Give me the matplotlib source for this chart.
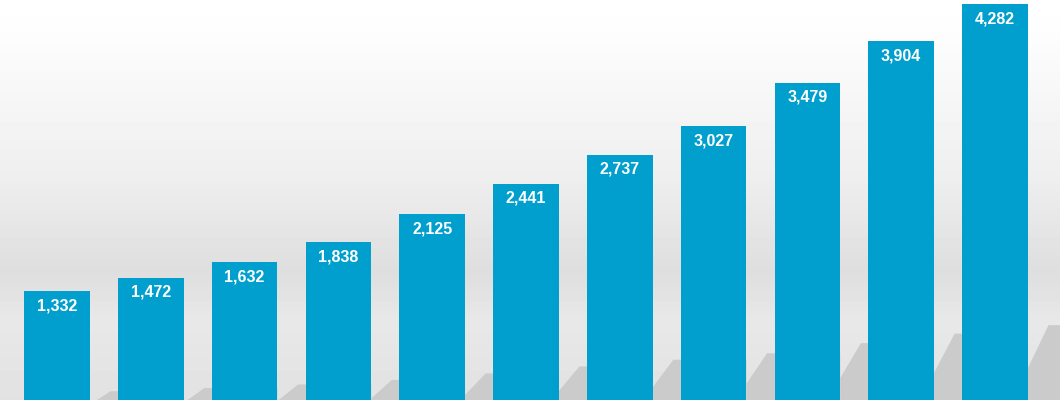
import matplotlib
matplotlib.use("Agg")
import matplotlib.pyplot as plt
import numpy as np
from matplotlib.patches import Polygon

values = [1332, 1472, 1632, 1838, 2125, 2441, 2737, 3027, 3479, 3904, 4282]
labels = ["1,332", "1,472", "1,632", "1,838", "2,125", "2,441",
          "2,737", "3,027", "3,479", "3,904", "4,282"]

bar_color = "#009fcd"
width = 0.70

fig = plt.figure(figsize=(10.6, 4.0), dpi=100)
ax = fig.add_axes([0, 0, 1, 1])
x = np.arange(len(values))
ax.set_xlim(-0.608, 10.693)
ax.set_ylim(216, 4327)
ax.axis("off")

# background: white at top fading to light grey near the floor
rows = np.linspace(0, 1, 400)
grey = np.interp(rows, [0, 0.08, 0.45, 0.68, 0.8, 1.0],
                 [255, 253, 238, 222, 232, 226]) / 255
bg = np.repeat(grey[:, None], 2, axis=1)
ax.imshow(bg, cmap="gray", vmin=0, vmax=1, aspect="auto",
          extent=[-0.608, 10.693, 216, 4327], origin="upper", zorder=0)

# soft floor shadows cast to the right of each bar
for xi, v in zip(x, values):
    xr = xi + width / 2
    h = 0.23 * v
    pts = [(xr, 0), (xr + 1.0, 0), (xr + 1.0, h), (xr + 0.22, h),
           (xr, h * 0.55)]
    ax.add_patch(Polygon(pts, closed=True, facecolor="#cbcbcb",
                         edgecolor="none", zorder=1))

ax.bar(x, values, width=width, color=bar_color, zorder=2)

for xi, v, lab in zip(x, values, labels):
    ax.text(xi, v - 150, lab, ha="center", va="center", color="white",
            fontsize=11.5, fontweight="bold", family="Liberation Sans",
            zorder=3)

fig.savefig("out.png", dpi=100)
